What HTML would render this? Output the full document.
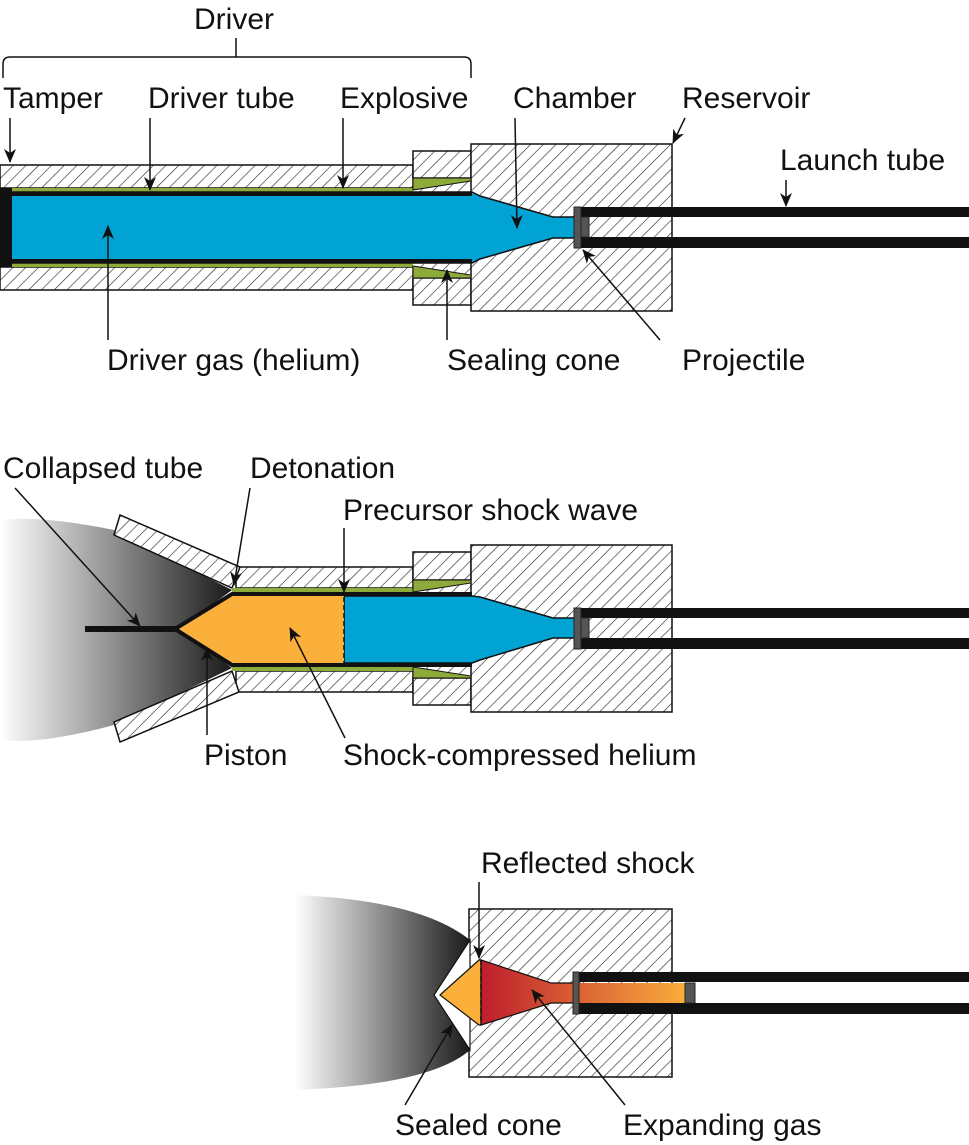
<!DOCTYPE html>
<html><head><meta charset="utf-8"><style>
html,body{margin:0;padding:0;background:#fff}
svg{display:block}
text{font-family:"Liberation Sans",Arial,sans-serif;font-size:30px;fill:#111}
</style></head><body>
<svg width="969" height="1145" viewBox="0 0 969 1145" xmlns="http://www.w3.org/2000/svg">
<defs>
<pattern id="h" patternUnits="userSpaceOnUse" width="9" height="9" patternTransform="rotate(45)">
<rect width="9" height="9" fill="#fff"/><line x1="0" y1="0" x2="0" y2="9" stroke="#222" stroke-width="1.2"/>
</pattern>
<marker id="a" markerWidth="14" markerHeight="14" refX="13" refY="6" orient="auto" markerUnits="userSpaceOnUse">
<path d="M0,0 L14,6 L0,12 L4,6 z" fill="#111"/></marker>
<linearGradient id="g" x1="0" x2="1" y1="0" y2="0"><stop offset="0" stop-color="#fff"/><stop offset="1" stop-color="#1a1a1a"/></linearGradient>
<linearGradient id="r" x1="481" x2="690" y1="0" y2="0" gradientUnits="userSpaceOnUse"><stop offset="0" stop-color="#be1e2d"/><stop offset="1" stop-color="#fbb03b"/></linearGradient>
</defs>

<!-- ===== Panel 1 ===== -->
<text x="194" y="29">Driver</text>
<path d="M236,38 V57 M3,78 V64 Q3,57 10,57 H464 Q471,57 471,64 V78" fill="none" stroke="#111" stroke-width="1.5"/>
<text x="3" y="108">Tamper</text>
<text x="148" y="108">Driver tube</text>
<text x="340" y="108">Explosive</text>
<text x="513" y="108">Chamber</text>
<text x="682" y="108">Reservoir</text>
<text x="780" y="170">Launch tube</text>
<text x="107" y="370">Driver gas (helium)</text>
<text x="447" y="370">Sealing cone</text>
<text x="682" y="370">Projectile</text>

<g stroke="#111" stroke-width="1.5">
<rect x="0" y="165" width="413" height="23" fill="url(#h)"/>
<rect x="0" y="267" width="413" height="23" fill="url(#h)"/>
<rect x="413" y="151" width="58" height="27" fill="url(#h)"/>
<rect x="413" y="278" width="58" height="27" fill="url(#h)"/>
<rect x="413" y="178" width="58" height="100" fill="url(#h)" stroke="none"/>
<rect x="471" y="144" width="201" height="167" fill="url(#h)"/>
</g>
<rect x="0" y="188" width="413" height="4" fill="#8dab3a"/>
<rect x="0" y="263" width="413" height="4" fill="#8dab3a"/>
<polygon points="413,178 471,178 471,181 413,190" fill="#8dab3a" stroke="#111" stroke-width="1"/>
<polygon points="413,266 471,275 471,278 413,278" fill="#8dab3a" stroke="#111" stroke-width="1"/>
<polygon points="0,192 472,192 480,196 553,217 575,217 575,238 553,238 480,259 472,263 0,263" fill="#00a3d4" stroke="#111" stroke-width="1.5"/>
<rect x="0" y="192" width="472" height="4" fill="#111"/>
<rect x="0" y="259" width="472" height="4" fill="#111"/>
<rect x="0" y="188" width="12" height="79" fill="#111"/>
<rect x="581" y="207" width="388" height="10" fill="#111"/>
<rect x="581" y="237" width="388" height="11" fill="#111"/>
<rect x="574" y="207" width="7" height="41" fill="#555" stroke="#222"/>
<rect x="581" y="217" width="8" height="20" fill="#555" stroke="#222"/>

<g stroke="#111" stroke-width="1.5" fill="none" marker-end="url(#a)">
<line x1="10" y1="118" x2="10" y2="162"/>
<line x1="150" y1="118" x2="150" y2="190"/>
<line x1="343" y1="118" x2="343" y2="188"/>
<line x1="515" y1="118" x2="517" y2="228"/>
<line x1="685" y1="118" x2="673" y2="143"/>
<line x1="786" y1="180" x2="786" y2="206"/>
<line x1="108" y1="340" x2="108" y2="226"/>
<line x1="447" y1="340" x2="447" y2="270"/>
<line x1="660" y1="340" x2="583" y2="250"/>
</g>

<!-- ===== Panel 2 ===== -->
<text x="3" y="478">Collapsed tube</text>
<text x="250" y="478">Detonation</text>
<text x="343" y="520">Precursor shock wave</text>
<text x="204" y="765">Piston</text>
<text x="343" y="765">Shock-compressed helium</text>

<path d="M0,520 Q40,515 114,530 L232,590 L179,629 L232,668 L114,725 Q40,745 0,740 Z" fill="url(#g)"/>
<g stroke="#111" stroke-width="1.5">
<rect x="236" y="567" width="177" height="21" fill="url(#h)"/>
<rect x="236" y="671" width="177" height="21" fill="url(#h)"/>
<polygon points="120,515 114,535 232,588 240,567" fill="url(#h)"/>
<polygon points="114,722 120,742 239,692 232,671" fill="url(#h)"/>
<rect x="413" y="552" width="58" height="28" fill="url(#h)"/>
<rect x="413" y="678" width="58" height="27" fill="url(#h)"/>
<rect x="413" y="580" width="58" height="98" fill="url(#h)" stroke="none"/>
<rect x="471" y="545" width="201" height="167" fill="url(#h)"/>
</g>
<rect x="232" y="588" width="181" height="4" fill="#8dab3a"/>
<rect x="232" y="667" width="181" height="4" fill="#8dab3a"/>
<polygon points="413,580 471,580 471,583 413,592" fill="#8dab3a" stroke="#111" stroke-width="1"/>
<polygon points="413,667 471,676 471,678 413,678" fill="#8dab3a" stroke="#111" stroke-width="1"/>
<polygon points="344,596 472,596 480,597 553,618 575,618 575,638 553,638 480,660 472,663 344,663" fill="#00a3d4" stroke="#111" stroke-width="1.5"/>
<polygon points="179,629 232,596 344,596 344,663 232,663" fill="#fbb03b"/>
<path d="M175,629 L232,594 H472 M175,629 L232,665 H472" fill="none" stroke="#111" stroke-width="4"/>
<line x1="344" y1="597" x2="344" y2="663" stroke="#111" stroke-width="1.5" stroke-dasharray="5,3"/>
<rect x="85" y="626" width="94" height="6" fill="#111"/>
<rect x="581" y="608" width="388" height="10" fill="#111"/>
<rect x="581" y="638" width="388" height="11" fill="#111"/>
<rect x="574" y="608" width="7" height="41" fill="#555" stroke="#222"/>
<rect x="581" y="618" width="8" height="20" fill="#555" stroke="#222"/>

<g stroke="#111" stroke-width="1.5" fill="none" marker-end="url(#a)">
<line x1="15" y1="488" x2="140" y2="626"/>
<line x1="250" y1="488" x2="234" y2="585"/>
<line x1="344" y1="528" x2="344" y2="592"/>
<line x1="207" y1="735" x2="207" y2="648"/>
<line x1="345" y1="738" x2="290" y2="628"/>
</g>

<!-- ===== Panel 3 ===== -->
<text x="481" y="873">Reflected shock</text>
<text x="395" y="1135">Sealed cone</text>
<text x="623" y="1135">Expanding gas</text>

<path d="M295,895 Q420,900 470,940 L470,1050 Q430,1085 295,1090 Z" fill="url(#g)"/>
<rect x="469" y="909" width="203" height="168" fill="url(#h)" stroke="#111" stroke-width="1.5"/>
<polygon points="470,940 434,995 470,1050" fill="#fff" stroke="#111" stroke-width="1.2"/>
<polygon points="440,995 479,960 481,960 481,1025 479,1025" fill="#fbb03b" stroke="#111" stroke-width="1.2"/>
<polygon points="481,960 551,983 580,983 580,1003 551,1003 481,1025" fill="url(#r)" stroke="#111" stroke-width="1.2"/>
<rect x="578" y="983" width="108" height="20" fill="url(#r)"/>
<line x1="481" y1="960" x2="481" y2="1025" stroke="#111" stroke-width="1.5" stroke-dasharray="5,3"/>
<rect x="578" y="972" width="391" height="10" fill="#111"/>
<rect x="578" y="1003" width="391" height="11" fill="#111"/>
<rect x="573" y="972" width="6" height="42" fill="#555" stroke="#222"/>
<rect x="685" y="983" width="10" height="20" fill="#555" stroke="#222"/>

<g stroke="#111" stroke-width="1.5" fill="none" marker-end="url(#a)">
<line x1="479" y1="882" x2="479" y2="958"/>
<line x1="405" y1="1105" x2="452" y2="1025"/>
<line x1="625" y1="1105" x2="532" y2="990"/>
</g>
</svg>
</body></html>
